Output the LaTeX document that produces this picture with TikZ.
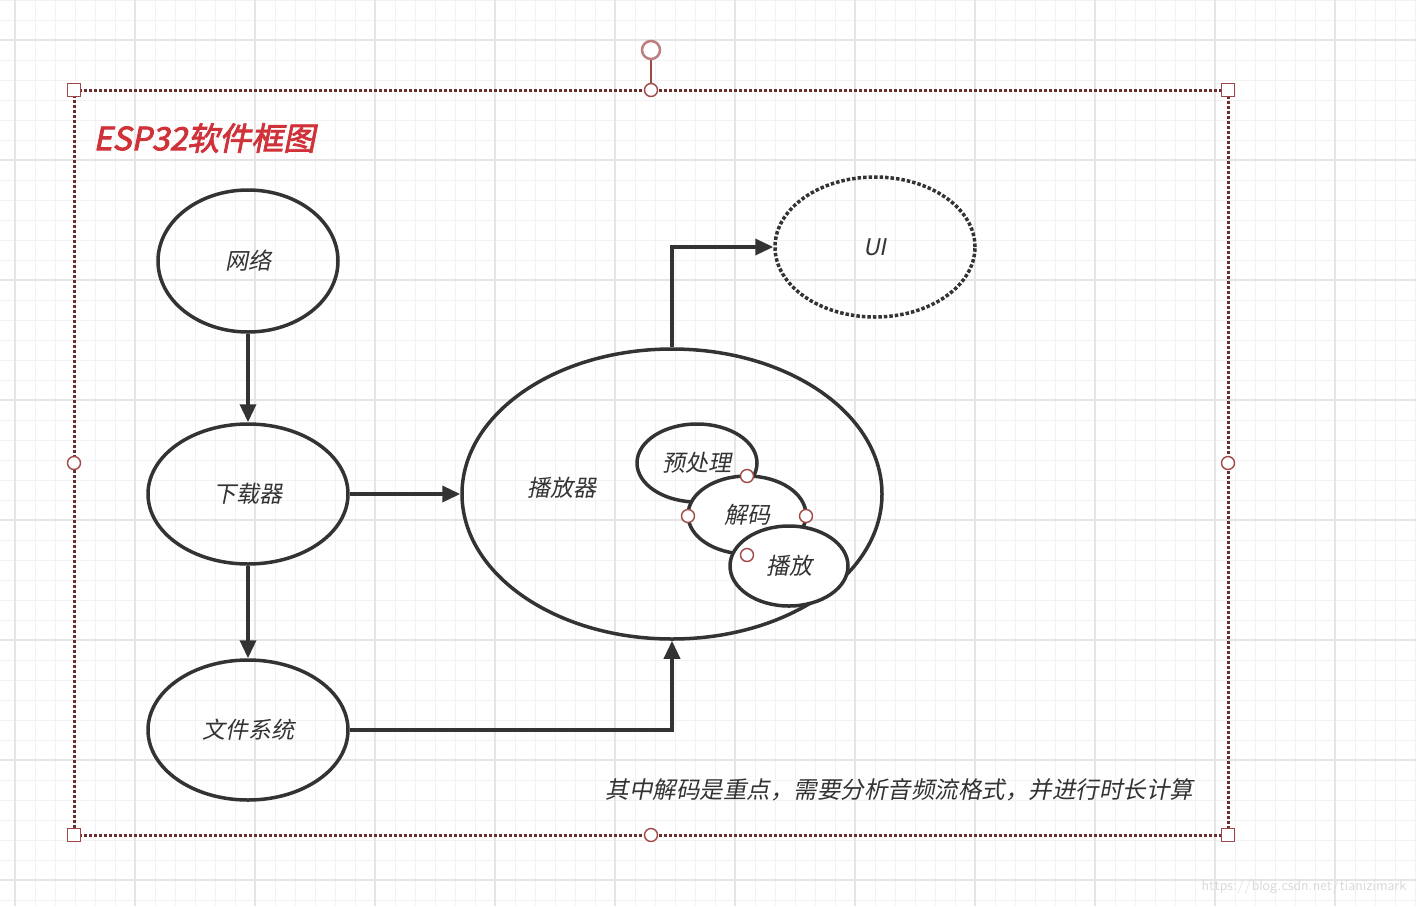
\documentclass[tikz,border=0pt]{standalone}
\usepackage{fontspec}
\newfontfamily\cjk[FakeSlant=0.2]{Noto Sans CJK SC}
\newfontfamily\cjkb[FakeSlant=0.2,FakeBold=2.5]{Noto Sans CJK SC}
\usetikzlibrary{arrows.meta,shapes.geometric}
\definecolor{ln}{HTML}{333333}
\definecolor{sel}{HTML}{6A3030}
\definecolor{hd}{HTML}{A04848}
\definecolor{ttl}{HTML}{D0323A}
\begin{document}
\begin{tikzpicture}[x=1pt,y=-1pt,
  el/.style={draw=ln,line width=3.5pt,ellipse,font=\cjk\fontsize{23}{25}\selectfont,text=ln},
  arr/.style={draw=ln,line width=3.5pt,-{Triangle[length=18pt,width=16pt]}},
  hcirc/.style={circle,draw=hd,fill=white,line width=1.4pt,inner sep=0pt,minimum size=13pt},
  hsq/.style={rectangle,draw=hd,fill=white,line width=1.4pt,inner sep=0pt,minimum size=13pt}]
\fill[white] (0,0) rectangle (1416,906);
\useasboundingbox (0,0) rectangle (1416,906);
\foreach \x in {15,35,...,1416} \draw[black!5,line width=1pt] (\x,0)--(\x,906);
\foreach \y in {0,20,...,906} \draw[black!5,line width=1pt] (0,\y)--(1416,\y);
\foreach \x in {15,135,...,1416} \draw[black!10,line width=1.5pt] (\x,0)--(\x,906);
\foreach \y in {40,160,...,906} \draw[black!10,line width=1.5pt] (0,\y)--(1416,\y);
\draw[sel,line width=3pt,dash pattern=on 3pt off 2pt] (74,90) rectangle (1228,835);
\node[anchor=west,text=ttl,font=\cjkb\fontsize{32}{34}\selectfont] (title) at (90,138) {ESP32软件框图};
\node[el,minimum width=180pt,minimum height=142pt] (net) at (248,261) {网络};
\node[el,minimum width=200pt,minimum height=140pt] (dl) at (248,494) {下载器};
\node[el,minimum width=200pt,minimum height=140pt] (fs) at (248,730) {文件系统};
\node[el,minimum width=420pt,minimum height=290pt] (pl) at (672,494) {};
\node[font=\cjk\fontsize{23}{25}\selectfont,text=ln] (pllab) at (562,488) {播放器};
\node[el,dotted,minimum width=200pt,minimum height=140pt] (ui) at (875,247) {UI};
\node[el,minimum width=120pt,minimum height=78pt] (pre) at (697,463) {预处理};
\node[el,fill=white,minimum width=118pt,minimum height=78pt] (dec) at (747,515) {解码};
\node[el,fill=white,minimum width=118pt,minimum height=80pt] (play) at (789,566) {播放};
\node[hcirc] (h1) at (747,476) {};
\node[hcirc] (h2) at (688,516) {};
\node[hcirc] (h3) at (806,516) {};
\node[hcirc] (h4) at (747,555) {};
\draw[arr] (net) -- (dl);
\draw[arr] (dl) -- (fs);
\draw[arr] (dl.east) -- (pl.west);
\draw[arr] (fs.east) -| (pl.south);
\draw[arr] (pl.north) |- (ui.west);
\node[anchor=east,font=\cjk\fontsize{23.5}{25}\selectfont,text=ln] (note) at (1197,790) {其中解码是重点，需要分析音频流格式，并进行时长计算};
\node[anchor=east,font=\sffamily\fontsize{15}{16}\selectfont,text=black!15] (wm) at (1410,887) {https://blog.csdn.net/tianizimark};
\coordinate (rt) at (651,50);
\draw[hd,line width=2pt] (rt) -- (651,90);
\node[circle,draw=hd!70,fill=white,line width=2.5pt,minimum size=18pt,inner sep=0pt] (rot) at (rt) {};
\foreach \p in {(74,90),(1228,90),(74,835),(1228,835)} \node[hsq] at \p {};
\foreach \p in {(651,90),(74,463),(1228,463),(651,835)} \node[hcirc] at \p {};
\end{tikzpicture}
\end{document}
